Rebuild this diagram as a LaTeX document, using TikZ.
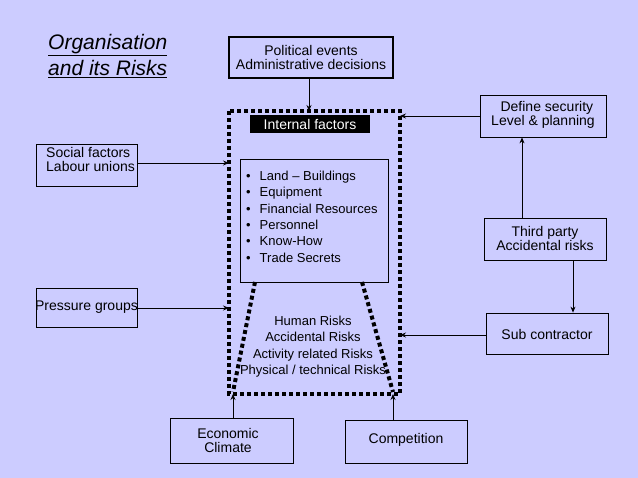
\documentclass[tikz,border=0pt]{standalone}
\usepackage{fontspec}
\setmainfont{Liberation Sans}
\usetikzlibrary{arrows.meta}
\definecolor{bg}{RGB}{204,204,255}
\begin{document}
\begin{tikzpicture}[x=1pt,y=-1pt,
  box/.style={draw,line width=0.8pt,inner sep=0pt},
  txt/.style={font=\fontsize{14}{14}\selectfont,align=center,inner sep=0pt},
  arr/.style={-{Stealth[length=6pt,width=5pt]},line width=0.8pt},
  dots/.style={line width=4pt,dash pattern=on 4pt off 3pt}]
\fill[bg] (0,0) rectangle (638,478);
\useasboundingbox (0,0) rectangle (638,478);
\node[txt,font=\fontsize{21}{26}\selectfont\itshape,align=left,anchor=north west] (title) at (48,34) {\underline{Organisation}\\\underline{and its Risks}};
\node[box,line width=2pt,minimum width=164,minimum height=41] (pol) at (311,57.5) {};
\node[txt] (polt) at (311,57.5) {Political events\\Administrative decisions};
\draw[dots] (229,111) rectangle (400,394);
\coordinate (dtop) at (309,111);
\node[fill=black,text=white,minimum width=120,minimum height=18,inner sep=0pt,font=\fontsize{14}{14}\selectfont] (int) at (310,124) {Internal factors};
\node[box,minimum width=148,minimum height=123] (inner) at (314,220.5) {};
\node[txt,align=left,anchor=north west,font=\fontsize{13}{16.3}\selectfont] (list) at (246,171) {%
\textbullet\hspace{9pt}Land – Buildings\\\textbullet\hspace{9pt}Equipment\\\textbullet\hspace{9pt}Financial Resources\\\textbullet\hspace{9pt}Personnel\\\textbullet\hspace{9pt}Know-How\\\textbullet\hspace{9pt}Trade Secrets};
\coordinate (tl) at (255,282); \coordinate (bl) at (233,392);
\coordinate (tr) at (362,282); \coordinate (br) at (393,392);
\draw[dots] (tl) -- (bl); \draw[dots] (tr) -- (br);
\node[txt,font=\fontsize{13}{16.3}\selectfont] (risks) at (313,346.5) {Human Risks\\Accidental Risks\\Activity related Risks\\Physical / technical Risks};
\node[box,minimum width=101,minimum height=42] (soc) at (86.5,165) {};
\node[txt,align=left,anchor=north west] at (46,147) {Social factors\\Labour unions};
\node[box,minimum width=101,minimum height=39] (pre) at (86.5,307.5) {};
\node[txt] at (86.5,307) {Pressure groups};
\node[box,minimum width=126,minimum height=42] (def) at (543,116) {};
\node[txt,align=center] at (543,115) {\ \ Define security\\Level \& planning};
\node[box,minimum width=122,minimum height=42] (thp) at (545,239) {};
\node[txt] at (545,238) {Third party\\Accidental risks};
\node[box,minimum width=122,minimum height=41] (sub) at (547,333.5) {};
\node[txt] at (547,334) {Sub contractor};
\node[box,minimum width=123,minimum height=45] (eco) at (231.5,440.5) {};
\node[txt] at (228,440) {Economic\\Climate};
\node[box,minimum width=122,minimum height=43] (com) at (406,441.5) {};
\node[txt] at (406,440) {Competition};
\coordinate (sl) at (229,163); \coordinate (pl) at (229,308);
\coordinate (dr) at (400,116); \coordinate (sr) at (400,335);
\coordinate (eb) at (233,394); \coordinate (cb) at (393,394);
\draw[arr] (pol.south -| dtop) -- (dtop);
\draw[arr] (soc.east |- sl) -- (sl);
\draw[arr] (pre.east |- pl) -- (pl);
\draw[arr] (def.west |- dr) -- (dr);
\draw[arr] (sub.west |- sr) -- (sr);
\draw[arr] (thp.north -| 522,0) -- (def.south -| 522,0);
\draw[arr] (thp.south -| 573,0) -- (sub.north -| 573,0);
\draw[arr] (eco.north -| eb) -- (eb);
\draw[arr] (com.north -| cb) -- (cb);
\end{tikzpicture}
\end{document}
